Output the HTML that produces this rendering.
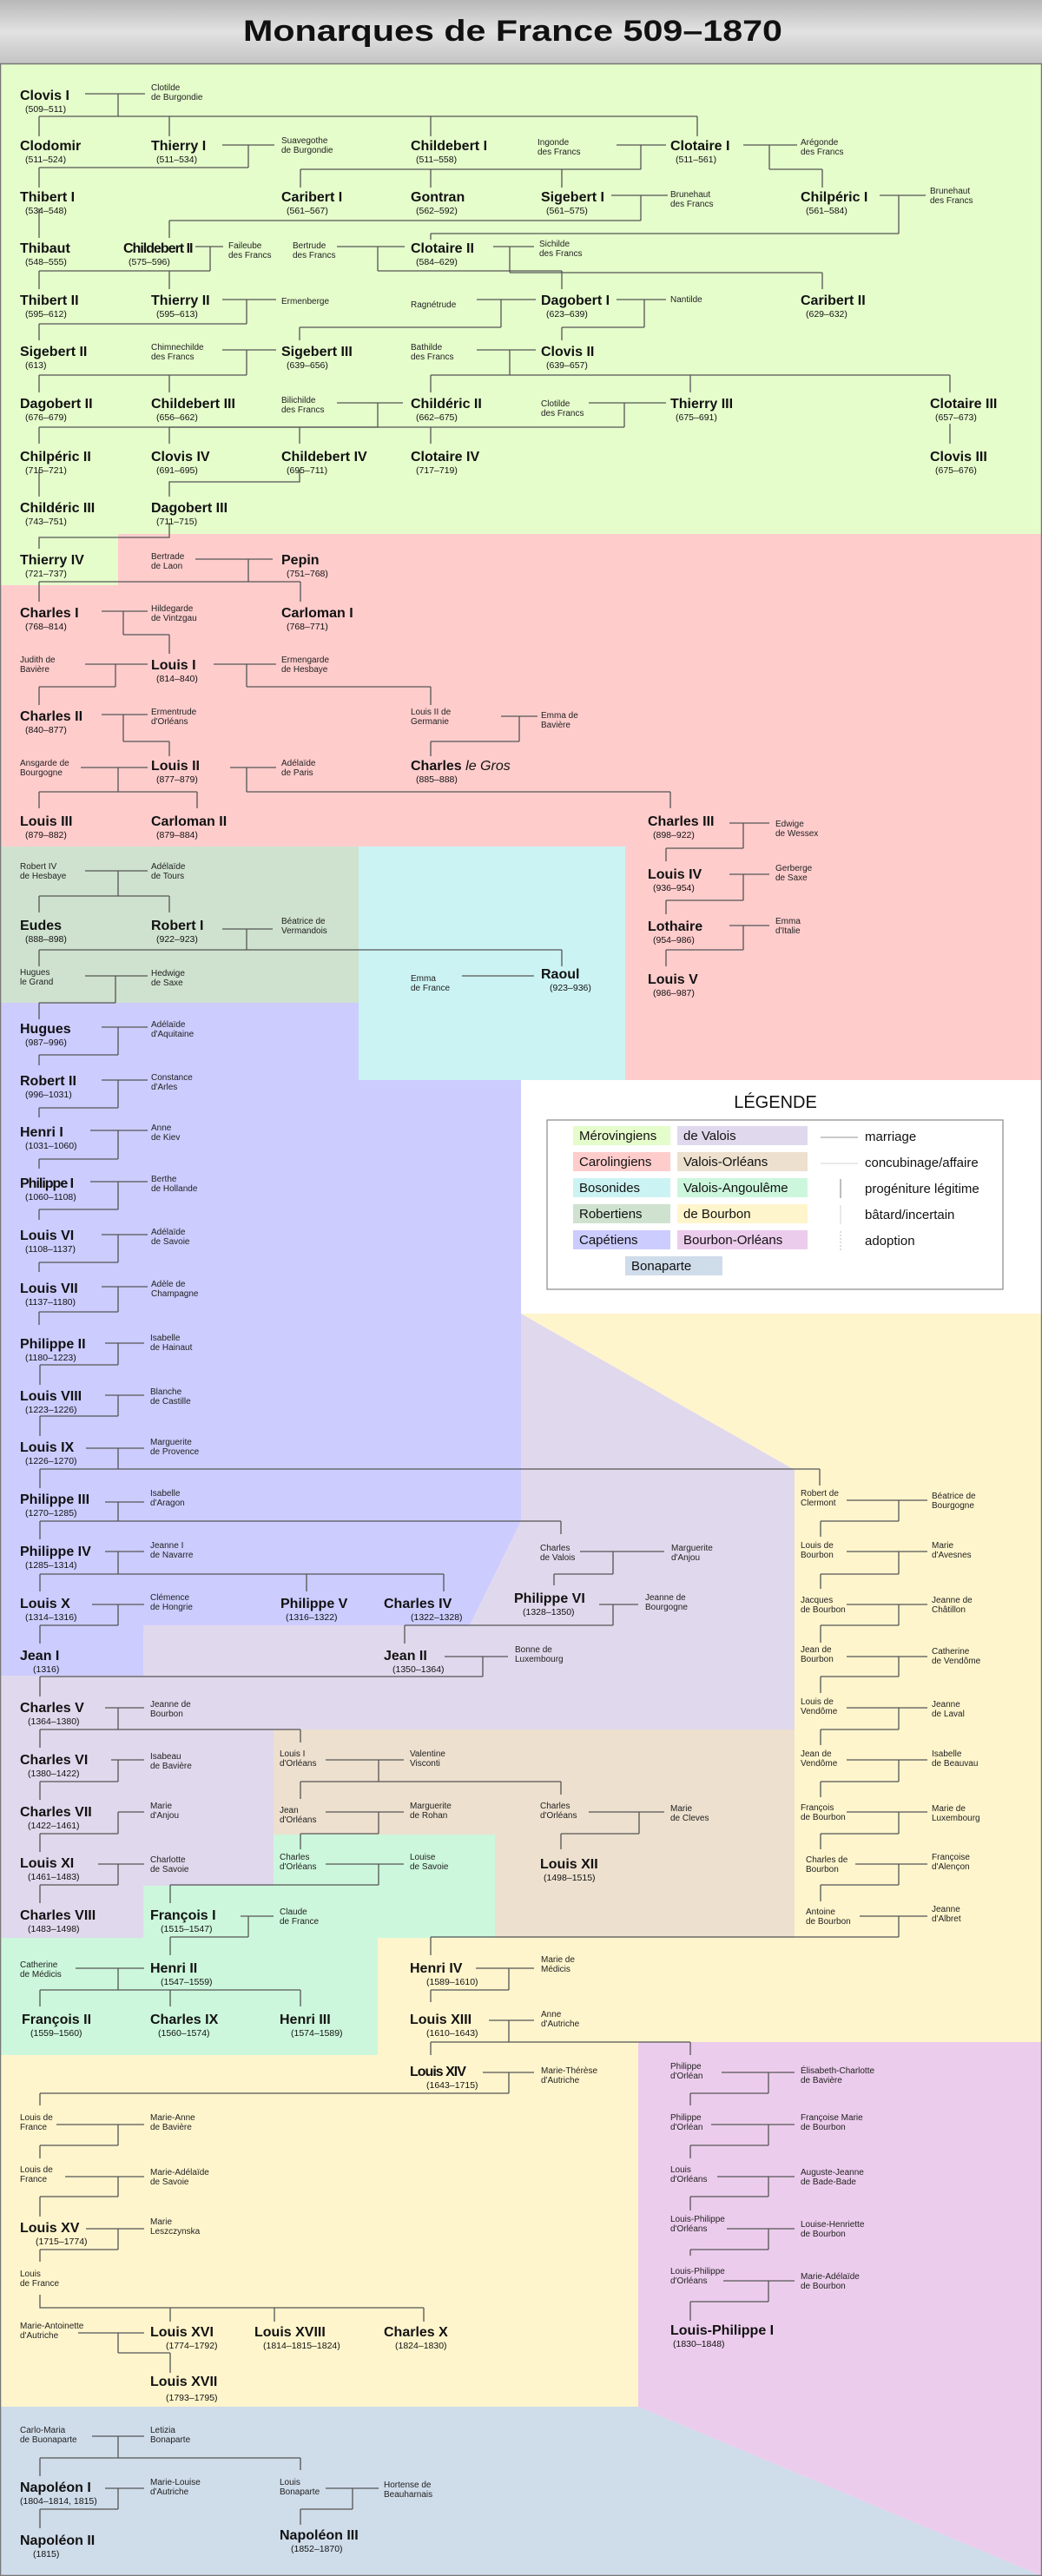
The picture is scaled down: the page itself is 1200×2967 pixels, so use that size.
<!DOCTYPE html>
<html><head><meta charset="utf-8"><title>Monarques de France 509–1870</title>
<style>
html,body{margin:0;padding:0;background:#fff}
svg{display:block}
text{font-family:"Liberation Sans","DejaVu Sans",sans-serif;fill:#111}
.nm{font-weight:bold;font-size:16px}
.dt{font-size:10.5px}
.sp{font-size:10px;fill:#222}
.lg{font-size:15px}
</style></head>
<body>
<svg id="chart" xmlns="http://www.w3.org/2000/svg" width="1200" height="2967" viewBox="0 0 1200 2967">
<defs>
<linearGradient id="hg" x1="0" y1="0" x2="0" y2="1">
<stop offset="0" stop-color="#b8b8b8"/><stop offset="0.5" stop-color="#e2e2e2"/><stop offset="1" stop-color="#c4c4c4"/>
</linearGradient>
</defs>
<g>
<rect x="0" y="0" width="1200" height="73" fill="url(#hg)"/>
<text x="280" y="47" font-size="34" font-weight="bold" textLength="621" lengthAdjust="spacingAndGlyphs">Monarques de France 509–1870</text>
</g>
<g id="regions"></g>
<g id="lines" stroke="#555" stroke-width="1.3" fill="none"></g>
<g id="labels"></g>
<g id="legend">
<text x="893" y="1276" text-anchor="middle" font-size="20">LÉGENDE</text>
<rect x="630" y="1290" width="525" height="195" fill="#fff" stroke="#888" stroke-width="1.2"/>
</g>
<rect x="0.5" y="73.5" width="1199" height="2893" fill="none" stroke="#777" stroke-width="1.5"/>
</svg>
<script>
const NS="http://www.w3.org/2000/svg";
const S=1.893;
// ---- regions (full px) ----
const regionNames=["merovingiens","carolingiens","robertiens","bosonides","capetiens","legend-area","de-bourbon","de-valois","valois-orleans","valois-angouleme","bourbon-orleans","bonaparte"];
const regionColors=["#e5fccb","#ffcccc","#cfe2cf","#ccf3f3","#ccccff","#ffffff","#fff5cc","#e0d8ec","#ede0ce","#ccf7dc","#ecccec","#cfdcea"];
const regionPts=[
"0,73 1200,73 1200,615 136,615 136,674 0,674",
"136,615 1200,615 1200,1244 720,1244 720,975 0,975 0,674 136,674",
"0,975 413,975 413,1155 0,1155",
"413,975 720,975 720,1244 413,1244",
"0,1155 413,1155 413,1244 600,1244 600,1752 541,1872 165,1872 165,1930 0,1930",
"600,1244 1200,1244 1200,1513 600,1513",
"600,1513 1200,1513 1200,2352 735,2352 735,2772 0,2772 0,2367 435,2367 435,2232 915,2232 915,1693",
"600,1513 915,1693 915,1992 315,1992 315,2172 165,2172 165,2232 0,2232 0,1930 165,1930 165,1872 541,1872 600,1752",
"315,1992 915,1992 915,2232 570,2232 570,2113 315,2113",
"315,2113 570,2113 570,2232 435,2232 435,2367 0,2367 0,2232 165,2232 165,2172 315,2172",
"735,2352 1200,2352 1200,2967 735,2772",
"0,2772 735,2772 1200,2967 0,2967"];
// ---- kings: [name, x, baselineY, dates, opts] ; T = thumb coords, F = full ----
const kingsT=[
["Clovis I",12,60,"(509–511)"],["Clodomir",12,91,"(511–524)"],["Thierry I",92,91,"(511–534)"],["Childebert I",250,91,"(511–558)"],["Clotaire I",408,91,"(511–561)"],
["Thibert I",12,122,"(534–548)"],["Caribert I",171,122,"(561–567)"],["Gontran",250,122,"(562–592)"],["Sigebert I",329,122,"(561–575)"],["Chilpéric I",487,122,"(561–584)"],
["Thibaut",12,153,"(548–555)"],["Childebert II",75,153,"(575–596)",{c:1}],["Clotaire II",250,153,"(584–629)"],
["Thibert II",12,185,"(595–612)"],["Thierry II",92,185,"(595–613)"],["Dagobert I",329,185,"(623–639)"],["Caribert II",487,185,"(629–632)"],
["Sigebert II",12,216,"(613)"],["Sigebert III",171,216,"(639–656)"],["Clovis II",329,216,"(639–657)"],
["Dagobert II",12,248,"(676–679)"],["Childebert III",92,248,"(656–662)"],["Childéric II",250,248,"(662–675)"],["Thierry III",408,248,"(675–691)"],["Clotaire III",566,248,"(657–673)"],
["Chilpéric II",12,280,"(715–721)"],["Clovis IV",92,280,"(691–695)"],["Childebert IV",171,280,"(695–711)"],["Clotaire IV",250,280,"(717–719)"],["Clovis III",566,280,"(675–676)"],
["Childéric III",12,311,"(743–751)"],["Dagobert III",92,311,"(711–715)"],
["Thierry IV",12,343,"(721–737)"],["Pepin",171,343,"(751–768)"],
["Charles I",12,375,"(768–814)"],["Carloman I",171,375,"(768–771)"],
["Louis I",92,407,"(814–840)"],["Charles II",12,438,"(840–877)"],
["Louis II",92,468,"(877–879)",{s:18}],["Charles le Gros",250,468,"(885–888)",{s:17,it:1}],
["Louis III",12,502,"(879–882)"],["Carloman II",92,502,"(879–884)"],["Charles III",394,502,"(898–922)"],
["Louis IV",394,534,"(936–954)"],
["Eudes",12,565,"(888–898)"],["Robert I",92,565,"(922–923)"],["Lothaire",394,566,"(954–986)"],
["Raoul",329,595,"(923–936)",{dx:10}],["Louis V",394,598,"(986–987)"],
["Hugues",12,628,"(987–996)"],["Robert II",12,660,"(996–1031)"],["Henri I",12,691,"(1031–1060)"],["Philippe I",12,722,"(1060–1108)",{c:1}],["Louis VI",12,754,"(1108–1137)"],["Louis VII",12,786,"(1137–1180)"]];
const kingsF=[
["Philippe II",23,1553,"(1180–1223)"],["Louis VIII",23,1613,"(1223–1226)"],["Louis IX",23,1672,"(1226–1270)"],["Philippe III",23,1732,"(1270–1285)"],["Philippe IV",23,1792,"(1285–1314)"],
["Louis X",23,1852,"(1314–1316)"],["Philippe V",323,1852,"(1316–1322)"],["Charles IV",442,1852,"(1322–1328)",{dx:31}],["Philippe VI",592,1846,"(1328–1350)",{dx:10}],
["Jean I",23,1912,"(1316)",{dx:15}],["Jean II",442,1912,"(1350–1364)",{dx:10}],["Charles V",23,1972,"(1364–1380)",{dx:9}],["Charles VI",23,2032,"(1380–1422)",{dx:9}],["Charles VII",23,2092,"(1422–1461)",{dx:9}],
["Louis XI",23,2151,"(1461–1483)",{dx:9}],["Louis XII",622,2152,"(1498–1515)",{dx:4}],["Charles VIII",23,2211,"(1483–1498)",{dx:9}],["François I",173,2211,"(1515–1547)",{dx:12}],
["Henri II",173,2272,"(1547–1559)",{dx:12}],["Henri IV",472,2272,"(1589–1610)",{dx:19}],["François II",25,2331,"(1559–1560)",{dx:10}],["Charles IX",173,2331,"(1560–1574)",{dx:9}],["Henri III",322,2331,"(1574–1589)",{dx:13}],
["Louis XIII",472,2331,"(1610–1643)",{dx:19}],["Louis XIV",472,2391,"(1643–1715)",{dx:19,c:1}],["Louis XV",23,2571,"(1715–1774)",{dx:18}],
["Louis XVI",173,2691,"(1774–1792)",{dx:18}],["Louis XVIII",293,2691,"(1814–1815–1824)",{dx:10}],["Charles X",442,2691,"(1824–1830)",{dx:13}],["Louis-Philippe I",772,2689,"(1830–1848)",{dx:3,s:15}],
["Louis XVII",173,2748,"(1793–1795)",{dx:18,dy:17}],["Napoléon I",23,2870,"(1804–1814, 1815)",{dx:0}],["Napoléon II",23,2931,"(1815)",{dx:15}],["Napoléon III",322,2925,"(1852–1870)",{dx:13}]];
// ---- spouses/relatives: [line1, line2, x, y] ; T: y=first baseline (thumb) ; F: y=first-line centre ----
const spT=[["Clotilde","de Burgondie",92,55],["Suavegothe","de Burgondie",171,87],["Ingonde","des Francs",327,88],["Arégonde","des Francs",487,88],["Brunehaut","des Francs",408,120],["Brunehaut","des Francs",566,118],["Faileube","des Francs",139,151],["Bertrude","des Francs",178,151],["Sichilde","des Francs",328,150],["Ermenberge","",171,185],["Ragnétrude","",250,187],["Nantilde","",408,184],["Chimnechilde","des Francs",92,213],["Bathilde","des Francs",250,213],["Bilichilde","des Francs",171,245],["Clotilde","des Francs",329,247],["Bertrade","de Laon",92,340],["Hildegarde","de Vintzgau",92,372],["Judith de","Bavière",12,403],["Ermengarde","de Hesbaye",171,403],["Ermentrude","d'Orléans",92,435],["Louis II de","Germanie",250,435],["Emma de","Bavière",329,437],["Ansgarde de","Bourgogne",12,466],["Adélaïde","de Paris",171,466],["Edwige","de Wessex",472,503],["Robert IV","de Hesbaye",12,529],["Adélaïde","de Tours",92,529],["Gerberge","de Saxe",472,530],["Béatrice de","Vermandois",171,562],["Emma","d'Italie",472,562],["Hugues","le Grand",12,593],["Hedwige","de Saxe",92,594],["Emma","de France",250,597],["Adélaïde","d'Aquitaine",92,625],["Constance","d'Arles",92,657],["Anne","de Kiev",92,688],["Berthe","de Hollande",92,719],["Adélaïde","de Savoie",92,751],["Adèle de","Champagne",92,783]];
const spF=[["Isabelle","de Hainaut",173,1540],["Blanche","de Castille",173,1602],["Marguerite","de Provence",173,1660],["Isabelle","d'Aragon",173,1719],["Robert de","Clermont",922,1719],["Béatrice de","Bourgogne",1073,1722],["Jeanne I","de Navarre",173,1779],["Charles","de Valois",622,1782],["Marguerite","d'Anjou",773,1782],["Louis de","Bourbon",922,1779],["Marie","d'Avesnes",1073,1779],["Clémence","de Hongrie",173,1839],["Jeanne de","Bourgogne",743,1839],["Jacques","de Bourbon",922,1842],["Jeanne de","Châtillon",1073,1842],["Bonne de","Luxembourg",593,1899],["Jean de","Bourbon",922,1899],["Catherine","de Vendôme",1073,1901],["Jeanne de","Bourbon",173,1962],["Louis de","Vendôme",922,1959],["Jeanne","de Laval",1073,1962],["Louis I","d'Orléans",322,2019],["Valentine","Visconti",472,2019],["Isabeau","de Bavière",173,2022],["Jean de","Vendôme",922,2019],["Isabelle","de Beauvau",1073,2019],["Jean","d'Orléans",322,2084],["Marguerite","de Rohan",472,2079],["Charles","d'Orléans",622,2079],["Marie","de Cleves",772,2082],["Marie","d'Anjou",173,2079],["François","de Bourbon",922,2081],["Marie de","Luxembourg",1073,2082],["Charlotte","de Savoie",173,2141],["Charles","d'Orléans",322,2138],["Louise","de Savoie",472,2138],["Charles de","Bourbon",928,2141],["Françoise","d'Alençon",1073,2138],["Claude","de France",322,2201],["Antoine","de Bourbon",928,2201],["Jeanne","d'Albret",1073,2198],["Catherine","de Médicis",23,2262],["Marie de","Médicis",623,2256],["Anne","d'Autriche",623,2319],["Marie-Thérèse","d'Autriche",623,2384],["Philippe","d'Orléan",772,2379],["Élisabeth-Charlotte","de Bavière",922,2384],["Louis de","France",23,2438],["Marie-Anne","de Bavière",173,2438],["Philippe","d'Orléan",772,2438],["Françoise Marie","de Bourbon",922,2438],["Louis de","France",23,2498],["Marie-Adélaïde","de Savoie",173,2501],["Louis","d'Orléans",772,2498],["Auguste-Jeanne","de Bade-Bade",922,2501],["Marie","Leszczynska",173,2558],["Louis-Philippe","d'Orléans",772,2555],["Louise-Henriette","de Bourbon",922,2561],["Louis","de France",23,2618],["Louis-Philippe","d'Orléans",772,2615],["Marie-Adélaïde","de Bourbon",922,2621],["Marie-Antoinette","d'Autriche",23,2678],["Carlo-Maria","de Buonaparte",23,2798],["Letizia","Bonaparte",173,2798],["Marie-Louise","d'Autriche",173,2858],["Louis","Bonaparte",322,2858],["Hortense de","Beauharnais",442,2861]];
// ---- families: [yMarriage, x1, x2, xDrop, yBar, kids[[x,top]]] ----
const famT=[
[57,52,88,72,71,[[24,83],[103,83],[262,83],[424,83]]],
[88,135,167,151,102,[[24,114]]],
[88,375,405,390,103,[[183,114],[262,114],[342,114]]],
[88,452,485,468,103,[[500,114]]],
[119,372,406,390,134,[[103,145]]],
[119,535,563,547,142,[[262,146]]],
[150,119,136,128,165,[[24,176],[103,176]]],
[150,205,246,230,165,[[342,176]]],
[150,300,325,310,166,[[500,176]]],
[182,135,168,150,197,[[24,207]]],
[182,290,326,305,199,[[182,207]]],
[182,375,405,392,199,[[342,207]]],
[213,135,168,150,228,[[24,239],[103,239]]],
[213,290,326,310,228,[[262,239],[420,239],[578,239]]],
[245,205,245,230,260,[[24,270]]],
[245,358,405,380,260,[[103,270],[182,270],[262,270]]],
[340,119,166,151,354,[[24,366],[183,366]]],
[372,62,90,75,386,[[103,398]]],
[404,52,90,70,418,[[24,429]]],
[404,130,168,150,418,[[262,429]]],
[435,62,90,75,451,[[103,460]]],
[436,305,327,316,451,[[262,460]]],
[467,49,90,72,482,[[24,492],[120,492]]],
[467,140,168,150,482,[[408,492]]],
[501,444,468,452,516,[[405,524]]],
[532,444,468,452,548,[[405,556]]],
[563,444,468,452,578,[[405,588]]],
[530,52,90,72,545,[[24,555],[103,555]]],
[565,135,166,150,578,[[24,588],[342,588]]],
[594,52,90,70,610,[[24,620]]],
[625,62,90,72,642,[[24,648]]],
[657,62,90,72,674,[[24,680]]],
[688,55,90,72,705,[[24,711]]],
[719,55,90,72,736,[[24,742]]],
[751,62,90,72,768,[[24,774]]],
[783,62,90,72,798,[[24,806]]]];
const famF=[
[1547,121,166,136,1572,[[46,1595]]],
[1607,121,166,136,1631,[[46,1654]]],
[1668,99,166,136,1692,[[46,1714],[944,1711]]],
[1730,121,166,136,1752,[[46,1773],[646,1767]]],
[1787,121,166,136,1813,[[46,1833],[353,1833],[511,1833]]],
[1787,668,765,706,1813,[[638,1826]]],
[1848,106,166,136,1872,[[46,1893]]],
[1848,690,735,706,1872,[[466,1893]]],
[1908,512,585,556,1931,[[46,1954]]],
[1967,121,166,136,1992,[[46,2013],[346,2007]]],
[2027,128,166,136,2052,[[46,2073]]],
[2027,375,465,436,2052,[[346,2072],[646,2067]]],
[2087,136,166,136,2112,[[46,2133]]],
[2087,375,465,436,2112,[[346,2130]]],
[2087,678,765,736,2112,[[646,2130]]],
[2147,113,166,136,2171,[[46,2192]]],
[2147,375,465,436,2171,[[196,2192]]],
[2207,277,315,286,2231,[[196,2252]]],
[1728,975,1068,1035,1752,[[945,1770]]],
[1787,975,1068,1035,1813,[[945,1830]]],
[1848,975,1068,1035,1872,[[945,1892]]],
[1908,975,1068,1035,1931,[[945,1950]]],
[1967,975,1068,1035,1992,[[945,2010]]],
[2027,975,1068,1035,2052,[[945,2070]]],
[2087,975,1068,1035,2112,[[945,2130]]],
[2147,985,1068,1035,2171,[[945,2190]]],
[2207,990,1068,1035,2231,[[496,2252]]],
[2267,87,166,136,2292,[[46,2311],[196,2311],[346,2311]]],
[2267,548,615,586,2292,[[496,2306]]],
[2327,563,615,586,2352,[[496,2367],[795,2367]]],
[2387,556,615,586,2411,[[46,2425]]],
[2387,831,915,885,2411,[[795,2425]]],
[2447,65,166,136,2471,[[46,2486]]],
[2447,819,915,885,2471,[[795,2486]]],
[2507,75,166,136,2530,[[46,2553]]],
[2507,826,915,885,2530,[[795,2546]]],
[2567,99,166,136,2591,[[46,2605]]],
[2567,837,915,885,2591,[[795,2598]]],
[2627,833,915,885,2651,[[795,2673]]],
[2687,90,166,136,2710,[[196,2733]]],
[2806,106,166,136,2831,[[46,2852],[346,2845]]],
[2866,121,166,136,2890,[[46,2912]]],
[2866,375,436,406,2890,[[346,2908]]]];
// extra paths (thumb / full)
const pathsT=[[[24,127],[24,145]],[[578,258],[578,270]],[[182,286],[182,293],[103,293],[103,302]],[[103,318],[103,327],[24,327],[24,334]],[[24,286],[24,302]],[[281,594],[325,594]]];
const pathsF=[[[46,2643],[46,2658],[488,2658]],[[196,2658],[196,2674]],[[316,2658],[316,2674]],[[488,2658],[488,2674]]];

const gR=document.getElementById('regions'),gL=document.getElementById('lines'),gT=document.getElementById('labels');
function mk(tag,attrs,parent){const e=document.createElementNS(NS,tag);for(const k in attrs)e.setAttribute(k,attrs[k]);parent.appendChild(e);return e;}
regionPts.forEach((p,i)=>{
  const e=mk('polygon',{points:p,fill:regionColors[i]},gR);
  
  
});
function slug(s){return s.normalize('NFD').replace(/[\u0300-\u036f]/g,'').toLowerCase().replace(/[^a-z0-9]+/g,'-').replace(/^-|-$/g,'');}
function king(k,sc){
  const [name,x0,y0,dates,o0]=k;const o=o0||{};
  const x=Math.round(x0*sc),y=Math.round(y0*sc)+(sc>1?1:0);
  const g=mk('g',{},gT);
  
  
  const t=mk('text',{x:x,y:y,class:'nm'},g);
  if(o.s)t.setAttribute('font-size',o.s);
  if(o.c)t.setAttribute('letter-spacing','-1');
  if(o.it){t.textContent='Charles ';const ts=mk('tspan',{'font-style':'italic','font-weight':'normal'},t);ts.textContent='le Gros';}
  else t.textContent=name;
  const d=mk('text',{x:x+(o.dx!==undefined?o.dx:6),y:y+(o.dy||14),class:'dt'},g);
  d.textContent=dates;
}
kingsT.forEach(k=>king(k,S));
kingsF.forEach(k=>king(k,1));
function spouse(s,full){
  const [a,b,x0,y0]=s;
  const x=full?x0:Math.round(x0*S), y=full?y0+4:Math.round(y0*S);
  const t=mk('text',{x:x,y:y,class:'sp'},gT);
  
  
  const t1=mk('tspan',{x:x,y:y},t);t1.textContent=a;
  if(b){const t2=mk('tspan',{x:x,y:y+11},t);t2.textContent=b;}
}
spT.forEach(s=>spouse(s,false));
spF.forEach(s=>spouse(s,true));
function fam(f,sc){
  const [ym,x1,x2,xd,yb,kids]=f;const r=v=>Math.round(v*sc);
  let d=`M${r(x1)},${r(ym)}H${r(x2)}M${r(xd)},${r(ym)}V${r(yb)}`;
  const xs=kids.map(k=>k[0]).concat([xd]);
  d+=`M${r(Math.min(...xs))},${r(yb)}H${r(Math.max(...xs))}`;
  kids.forEach(k=>{d+=`M${r(k[0])},${r(yb)}V${r(k[1])}`;});
  const p=mk('path',{d:d},gL);
  
  
}
famT.forEach(f=>fam(f,S));
famF.forEach(f=>fam(f,1));
function poly(pts,sc){
  const p=mk('polyline',{points:pts.map(q=>Math.round(q[0]*sc)+','+Math.round(q[1]*sc)).join(' ')},gL);
  
  
}
pathsT.forEach(p=>poly(p,S));
pathsF.forEach(p=>poly(p,1));
// legend
const lgN=["Mérovingiens","Carolingiens","Bosonides","Robertiens","Capétiens","de Valois","Valois-Orléans","Valois-Angoulême","de Bourbon","Bourbon-Orléans","Bonaparte"];
const lgC=["#e5fccb","#ffcccc","#ccf3f3","#cfe2cf","#ccccff","#e0d8ec","#ede0ce","#ccf7dc","#fff5cc","#ecccec","#cfdcea"];
const gLe=document.getElementById('legend');
lgN.forEach((n,i)=>{
  let x,y,w;
  if(i<5){x=660;w=112;y=1297+i*30;}else if(i<10){x=780;w=150;y=1297+(i-5)*30;}else{x=720;w=112;y=1447;}
  const g=mk('g',{},gLe);
  
  
  mk('rect',{x:x,y:y,width:w,height:22,fill:lgC[i]},g);
  const t=mk('text',{x:x+7,y:y+16,class:'lg'},g);
  if(n==="de Bourbon")t.setAttribute('font-size','17');
  t.textContent=n;
});
const lk=[["marriage",15,"#aaa","h",""],["concubinage/affaire",13,"#ddd","h",""],["progéniture légitime",13,"#999","v",""],["bâtard/incertain",15,"#ddd","v",""],["adoption",15,"#ccc","v","2,2"]];
lk.forEach((l,i)=>{
  const y=1309+i*30;
  const g=mk('g',{},gLe);
  
  
  if(l[3]==='h')mk('line',{x1:945,x2:988,y1:y+1,y2:y+1,stroke:l[2],'stroke-width':1.3},g);
  else mk('line',{x1:968,x2:968,y1:y-11,y2:y+11,stroke:l[2],'stroke-width':1.3,'stroke-dasharray':l[4]||'none'},g);
  const t=mk('text',{x:996,y:y+5,class:'lg','font-size':l[1]},g);
  t.textContent=l[0];
});
</script>
</body></html>
